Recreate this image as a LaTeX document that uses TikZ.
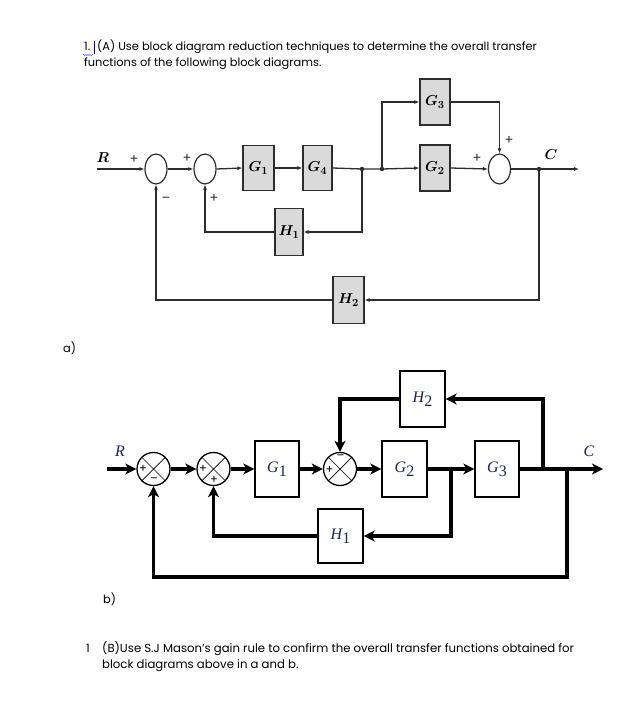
\documentclass[tikz,border=0pt]{standalone}
\usepackage{bm}
\usepackage{fontspec}
\setmainfont{Poppins}
\newfontfamily\lsf{Liberation Serif}
\usetikzlibrary{arrows.meta,shapes.geometric,decorations.pathmorphing}
\definecolor{blockgray}{RGB}{218,218,218}
\definecolor{lineA}{RGB}{45,45,45}
\definecolor{labB}{RGB}{30,35,80}
\newcommand\lbA[2]{$\bm{#1}_{\bm{#2}}$}
\newcommand\lbB[2]{{\lsf\itshape #1}\raisebox{-0.45ex}{\lsf #2}}
\tikzset{
  txt/.style={anchor=base west,inner sep=0pt,font=\fontsize{11.4}{13}\selectfont},
  lblA/.style={inner sep=0pt,font=\fontsize{14}{16}\selectfont},
  lblB/.style={inner sep=0pt,text=labB,font=\fontsize{16}{18}\selectfont},
  blkA/.style={draw=lineA,fill=blockgray,line width=1.2pt,inner sep=0pt,font=\fontsize{15}{17}\selectfont},
  sumA/.style={ellipse,draw=lineA,line width=1.2pt,minimum width=22pt,minimum height=30pt,inner sep=0pt},
  wireA/.style={draw=lineA,line width=1.3pt},
  arrA/.style={wireA,-{Latex[length=5pt,width=4pt]}},
  dotA/.style={circle,fill=lineA,inner sep=0pt,minimum size=4.5pt},
  sgnA/.style={inner sep=0pt,font=\fontsize{13}{15}\selectfont,text=lineA},
  blkB/.style={draw=black,line width=1.3pt,fill=white,inner sep=0pt,text=labB,font=\fontsize{16}{18}\selectfont},
  sumB/.style={circle,draw=black,line width=1.3pt,minimum size=33pt,inner sep=0pt},
  wireB/.style={draw=black,line width=3.6pt},
  arrB/.style={wireB,-{Stealth[length=11pt,width=11pt,inset=3pt]}},
  sgnB/.style={inner sep=0pt,font=\fontsize{11.5}{13}\selectfont},
}
\begin{document}
\begin{tikzpicture}[x=1pt,y=-1pt]
\useasboundingbox[fill=white] (0,0) rectangle (639,714);

% ---------- text ----------
\node[txt] (t1a) at (84,51) {1.};
\draw[blue!70!black,line width=0.5pt] (94,41) -- (94,54);
\draw[blue!60,line width=0.5pt,decorate,decoration={zigzag,amplitude=0.8pt,segment length=2.2pt}] (83,55) -- (93,55);
\node[txt] (t1b) at (97,51) {(A) Use block diagram reduction techniques to determine the overall transfer};
\node[txt] (t2) at (84,67) {functions of the following block diagrams.};
\node[txt] (la) at (63,352) {a)};
\node[txt] (lb) at (103,603) {b)};
\node[txt] (t3a) at (86,652) {1};
\node[txt,font=\fontsize{11.7}{13}\selectfont] (t3b) at (102,652) {(B)Use S.J Mason's gain rule to confirm the overall transfer functions obtained for};
\node[txt,font=\fontsize{11.7}{13}\selectfont] (t4) at (102,668) {block diagrams above in a and b.};

% ---------- diagram a ----------
\coordinate (aR) at (97,169);
\node[lblA] (aRl) at (103,158) {$\bm{R}$};
\node[sumA] (s1) at (156,169) {};
\node[sumA] (s2) at (205,169) {};
\node[blkA,minimum width=31pt,minimum height=45pt] (G1) at (258.5,168) {\lbA{G}{1}};
\node[blkA,minimum width=29pt,minimum height=45pt] (G4) at (317.5,168) {\lbA{G}{4}};
\node[dotA] (j1) at (362,169) {};
\node[dotA] (j2) at (382,169) {};
\node[blkA,minimum width=30pt,minimum height=46pt] (G3) at (435,102) {\lbA{G}{3}};
\node[blkA,minimum width=30pt,minimum height=46pt] (G2) at (435,168) {\lbA{G}{2}};
\node[sumA] (s3) at (499.5,169) {};
\node[dotA] (jC) at (539,169) {};
\coordinate (aOut) at (579,169);
\node[lblA] (aCl) at (551,155) {$\bm{C}$};
\node[blkA,minimum width=28pt,minimum height=47pt] (H1) at (289,232) {\lbA{H}{1}};
\node[blkA,minimum width=31pt,minimum height=47pt] (H2) at (348.5,300) {\lbA{H}{2}};

\draw[arrA] (aR) -- (s1.west);
\draw[arrA] (s1.east) -- (s2.west);
\draw[arrA] (s2.east) -- (G1.west);
\draw[arrA] (G1.east) -- (G4.west);
\draw[arrA] (G4.east) -- (j1.center) -- (j2.center) -- (G2.west);
\draw[arrA] (j2.center) |- (G3.west);
\draw[arrA] (G3.east) -| (s3.north);
\draw[arrA] (G2.east) -- (s3.west);
\draw[arrA] (s3.east) -- (jC.center) -- (aOut);
\draw[arrA] (j1.center) |- (H1.east);
\draw[arrA] (H1.west) -| (s2.south);
\draw[arrA] (jC.center) |- (H2.east);
\draw[arrA] (H2.west) -| (s1.south);

\node[sgnA] (p1) at (134,159) {+};
\node[sgnA] (p2) at (187,158) {+};
\node[sgnA] (p3) at (214,198) {+};
\node[sgnA] (m1) at (166,200) {\textendash};
\node[sgnA] (p4) at (509,140) {+};
\node[sgnA] (p5) at (477,158) {+};

% ---------- diagram b ----------
\coordinate (bR) at (107,469);
\node[lblB] (bRl) at (120,451) {\lsf\itshape R};
\node[sumB] (c1) at (153.5,469) {};
\node[sumB] (c2) at (213.5,469) {};
\node[blkB,minimum width=44pt,minimum height=56pt] (bG1) at (277,469) {\lbB{G}{1}};
\node[sumB] (c3) at (340,469) {};
\node[blkB,minimum width=45pt,minimum height=56pt] (bG2) at (404.5,469) {\lbB{G}{2}};
\coordinate (k1) at (451,469);
\node[blkB,minimum width=44pt,minimum height=56pt] (bG3) at (497,469) {\lbB{G}{3}};
\coordinate (k2) at (543,469);
\coordinate (k3) at (567,469);
\coordinate (bOut) at (603,469);
\node[lblB] (bCl) at (589,451) {\lsf\itshape C};
\node[blkB,minimum width=45pt,minimum height=56pt] (bH2) at (422.5,399) {\lbB{H}{2}};
\node[blkB,minimum width=45pt,minimum height=54pt] (bH1) at (340.5,536) {\lbB{H}{1}};

\foreach \c in {c1,c2,c3}{
  \draw[line width=0.7pt] (\c.north west) -- (\c.south east) (\c.north east) -- (\c.south west);
}

\draw[arrB] (bR) -- (c1.west);
\draw[arrB] (c1.east) -- (c2.west);
\draw[arrB] (c2.east) -- (bG1.west);
\draw[arrB] (bG1.east) -- (c3.west);
\draw[arrB] (c3.east) -- (bG2.west);
\draw[arrB] (bG2.east) -- (k1) -- (bG3.west);
\draw[arrB] (bG3.east) -- (bOut);
\draw[arrB] (k2) |- (bH2.east);
\draw[arrB] (bH2.west) -| (c3.north);
\draw[arrB] (k1) |- (bH1.east);
\draw[arrB] (bH1.west) -| (c2.south);
\draw[arrB] (k3) |- (153.5,577) -- (c1.south);

\node[sgnB] (q1) at (143,469) {+};
\node[sgnB] (q2) at (154,480) {\textendash};
\node[sgnB] (q3) at (203,469) {+};
\node[sgnB] (q4) at (214,480) {+};
\node[sgnB] (q5) at (329.5,470) {+};
\node[sgnB] (q6) at (340.5,457) {\textendash};
\end{tikzpicture}
\end{document}
